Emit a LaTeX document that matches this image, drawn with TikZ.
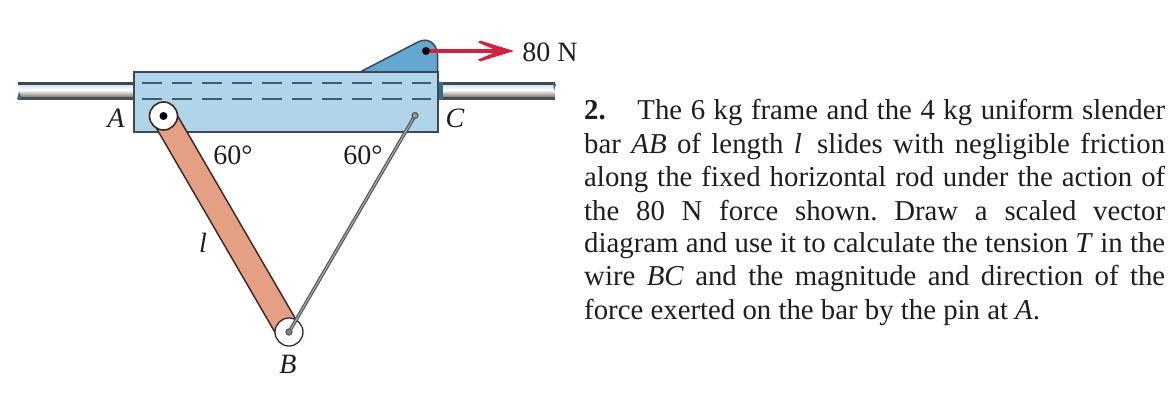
\documentclass[tikz,border=0pt]{standalone}
\usepackage{fontspec}
\setmainfont{Liberation Serif}
\definecolor{frameblue}{RGB}{176,213,235}
\definecolor{wedgeblue}{RGB}{98,168,208}
\definecolor{edge}{RGB}{62,72,84}
\definecolor{dashc}{RGB}{60,95,115}
\definecolor{barc}{RGB}{229,160,132}
\definecolor{barline}{RGB}{60,40,35}
\definecolor{redc}{RGB}{215,30,60}
\definecolor{paleb}{RGB}{205,222,245}
\definecolor{nub}{RGB}{50,110,135}
\definecolor{txt}{RGB}{30,30,30}
\tikzset{
  x=1pt,y=-1pt,
  lbl/.style={font=\fontsize{28}{30}\selectfont,text=txt,inner sep=0pt},
  para/.style={font=\fontsize{28.8}{30}\selectfont,text=txt,inner sep=0pt,anchor=base west},
  dashline/.style={dashc,line width=1.8pt,dash pattern=on 20pt off 10pt},
  pinring/.style={circle,draw=barline,fill=white,line width=1.6pt,minimum size=28pt,inner sep=0pt},
}
\newcommand{\just}[1]{\hbox to 581pt{\frenchspacing\spaceskip=0.2em plus 1fil\relax #1}}
\begin{document}
\begin{tikzpicture}
\useasboundingbox (0,0) rectangle (1172,402);
% rods
\foreach \xa/\xb in {18/134,438/555}{
  \shade[top color=paleb,bottom color=white] (\xa,84) rectangle (\xb,90);
  \shade[top color=white,bottom color=black!60] (\xa,90) rectangle (\xb,98);
  \fill[edge] (\xa,82) rectangle (\xb,84.5);
  \fill[black!70] (\xa,96.5) rectangle (\xb,100);
}
\fill[nub] (438,82) rectangle (443,100);
\fill[nub] (553,82) -- (556,84) -- (554,91) -- cycle;
\fill[nub] (19,92) -- (17,99) -- (22,99) -- cycle;
% wedge
\draw[edge,fill=wedgeblue,line width=1.5pt] (360,72) -- (418,42) .. controls (428,37) and (436,43) .. (437.5,54) -- (437.5,72) -- cycle;
% frame
\node[draw=edge,fill=frameblue,line width=1.8pt,minimum width=304pt,minimum height=60pt,inner sep=0pt,outer sep=0pt,anchor=north west] (frame) at (134,72) {};
\draw[dashline] (142,83) -- (431,83);
\draw[dashline] (142,99) -- (431,99);
% coordinates
\coordinate (A) at (163.5,116);
\coordinate (B) at (289,332);
\coordinate (Cp) at (415,115.5);
\coordinate (P) at (426,51);
\coordinate (tip) at (505,51);
% bar
\draw[barline,line width=26pt] (A) -- (B);
\draw[barc,line width=22.8pt] (A) -- (B);
\node[pinring,line width=1.3pt] (ringB) at (B) {};
\node[pinring] (ringA) at (A) {};
\fill[black] (A) circle (4);
% wire
\draw[black!70,line width=3.4pt] (Cp) -- (B);
\draw[black!35,line width=1.3pt] (Cp) -- (B);
\draw[black!65,fill=black!40,line width=1.2pt] (Cp) circle (3);
\draw[black!65,fill=black!50,line width=1pt] (B) circle (3.2);
% force
\node[circle,fill=black,minimum size=8pt,inner sep=0pt] (pinP) at (P) {};
\draw[redc,line width=3.8pt] (pinP) -- (tip);
\fill[redc] (514,51) -- (480,40.5) -- (478,42.5) -- (498,51) -- (478,59.5) -- (480,61.5) -- cycle;
% labels
\node[lbl] (f) at (550,52) {80 N};
\node[lbl] (la) at (116,118) {\itshape A};
\node[lbl] (lc) at (455,118) {\itshape C};
\node[lbl] (lb) at (288,364) {\itshape B};
\node[lbl] (ll) at (203,243) {\itshape l};
\node[lbl] (a1) at (233,155) {60°};
\node[lbl] (a2) at (363,155) {60°};
% paragraph
\node[para] (t1) at (584,119) {\just{\textbf{2.}\hskip 1.1em The 6 kg frame and the 4 kg uniform slender}};
\node[para] (t2) at (584,153) {\just{bar \textit{AB} of length \textit{l}\, slides with negligible friction}};
\node[para] (t3) at (584,186) {\just{along the fixed horizontal rod under the action of}};
\node[para] (t4) at (584,220) {\just{the 80 N force shown. Draw a scaled vector}};
\node[para] (t5) at (584,252) {\just{diagram and use it to calculate the tension \textit{T} in the}};
\node[para] (t6) at (584,285) {\just{wire \textit{BC} and the magnitude and direction of the}};
\node[para] (t7) at (584,319) {force exerted on the bar by the pin at \textit{A}.};
\end{tikzpicture}
\end{document}
